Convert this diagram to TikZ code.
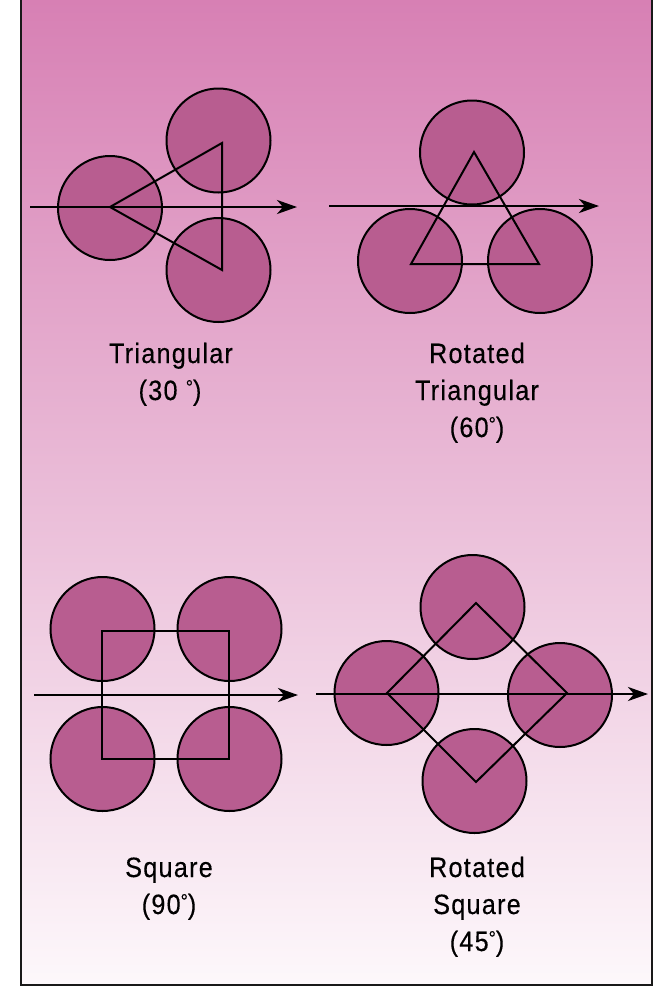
\documentclass[tikz,border=0pt]{standalone}
\usepackage{fontspec}
\setmainfont{Liberation Sans}[FakeStretch=0.9,LetterSpace=4.5,FakeBold=0.3]
\usetikzlibrary{arrows.meta}
\definecolor{bgtop}{RGB}{215,128,180}
\definecolor{bgbot}{RGB}{253,248,251}
\definecolor{disk}{RGB}{184,93,144}
\tikzset{
  disc/.style={circle,draw=black,line width=2pt,fill=disk,minimum size=104pt,inner sep=0pt},
  poly/.style={draw=black,line width=2pt,line join=miter},
  flow/.style={draw=black,line width=2.8pt,-{Stealth[length=20pt,width=14pt,inset=6pt]}},
  lbl/.style={font=\fontsize{28pt}{34pt}\selectfont,anchor=base,inner sep=0pt},
  frame/.style={draw=black!90,line width=2.5pt}
}
\newcommand{\dg}{\raisebox{6pt}{\fontsize{20pt}{20pt}\selectfont °}}
\begin{document}
\begin{tikzpicture}[x=1pt,y=-1pt]
\useasboundingbox (0,0) rectangle (668,986);
\shade[top color=bgtop,bottom color=bgbot] (21,0) rectangle (652,985);
\coordinate (fa) at (21,0);
\coordinate (fb) at (21,985);
\coordinate (fc) at (652,985);
\coordinate (fd) at (652,0);
\draw[frame] (fa) -- (fb) -- (fc) -- (fd);

% Panel 1: Triangular
\node[disc] (t1) at (110,208) {};
\node[disc] (t2) at (218.5,140.5) {};
\node[disc] (t3) at (218.5,270) {};
\coordinate (ta) at (110,207);
\coordinate (tb) at (222,143);
\coordinate (tc) at (222,270);
\draw[poly] (ta) -- (tb) -- (tc) -- cycle;
\coordinate (ts) at (30,207);
\coordinate (te) at (297,207);
\draw[flow] (ts) -- (te);
\node[lbl] (l1a) at (171,363) {Triangular};
\node[lbl] (l1b) at (170,400) {(30 \dg)};

% Panel 2: Rotated Triangular
\node[disc] (r1) at (472,152.5) {};
\node[disc] (r2) at (410,261) {};
\node[disc] (r3) at (540,261) {};
\coordinate (ra) at (474,152);
\coordinate (rb) at (411,264);
\coordinate (rc) at (539,264);
\draw[poly] (ra) -- (rb) -- (rc) -- cycle;
\coordinate (rs) at (329,206);
\coordinate (re) at (599,206);
\draw[flow] (rs) -- (re);
\node[lbl] (l2a) at (477,363) {Rotated};
\node[lbl] (l2b) at (477,400) {Triangular};
\node[lbl] (l2c) at (477,437) {(60\dg)};

% Panel 3: Square
\node[disc] (s1) at (102.5,629) {};
\node[disc] (s2) at (229.5,629) {};
\node[disc] (s3) at (102.5,759) {};
\node[disc] (s4) at (229.5,759) {};
\coordinate (sa) at (102,631);
\coordinate (sb) at (229,631);
\coordinate (sc) at (229,759);
\coordinate (sd) at (102,759);
\draw[poly] (sa) -- (sb) -- (sc) -- (sd) -- cycle;
\coordinate (ss) at (34,695);
\coordinate (se) at (298,695);
\draw[flow] (ss) -- (se);
\node[lbl] (l3a) at (169,877) {Square};
\node[lbl] (l3b) at (169,914) {(90\dg)};

% Panel 4: Rotated Square
\node[disc] (q1) at (472.5,607) {};
\node[disc] (q2) at (386.5,693) {};
\node[disc] (q3) at (560,695) {};
\node[disc] (q4) at (474.5,781) {};
\coordinate (qa) at (476,603);
\coordinate (qb) at (567,693);
\coordinate (qc) at (476,782);
\coordinate (qd) at (387,693);
\draw[poly] (qa) -- (qb) -- (qc) -- (qd) -- cycle;
\coordinate (qs) at (316,694);
\coordinate (qe) at (648,694);
\draw[flow] (qs) -- (qe);
\node[lbl] (l4a) at (477,877) {Rotated};
\node[lbl] (l4b) at (477,914) {Square};
\node[lbl] (l4c) at (477,951) {(45\dg)};
\end{tikzpicture}
\end{document}
